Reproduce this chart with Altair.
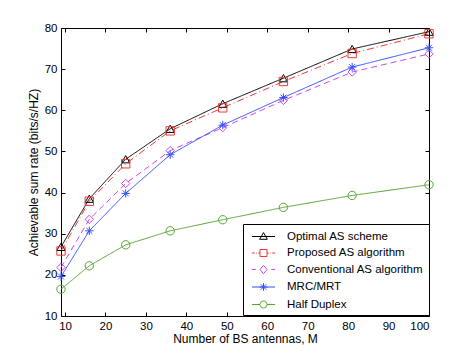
import altair as alt
import pandas as pd

antennas = [9, 16, 25, 36, 49, 64, 81, 100]
series_names = ["Optimal AS scheme", "Proposed AS algorithm", "Conventional AS algorithm", "MRC/MRT", "Half Duplex"]
optimal = [26.8, 38.5, 48.1, 55.5, 61.6, 67.8, 74.9, 79.1]
proposed = [25.8, 37.9, 47.0, 55.0, 60.6, 67.0, 73.8, 78.6]
conventional = [21.8, 33.5, 42.2, 50.2, 55.8, 62.4, 69.3, 73.7]
mrc = [19.6, 30.7, 39.8, 49.2, 56.4, 63.1, 70.5, 75.2]
half = [16.5, 22.2, 27.3, 30.7, 33.4, 36.4, 39.3, 41.9]
x_ticks = [10, 20, 30, 40, 50, 60, 70, 80, 90, 100]
y_ticks = [10, 20, 30, 40, 50, 60, 70, 80]

colors = ["#000000", "#ee3a33", "#c848f0", "#3350f5", "#55a532"]
dashes = [[1, 0], [7, 3, 1, 3], [6, 4], [1, 0], [1, 0]]

asterisk = "M-1,0L1,0M0,-1L0,1M-0.7,-0.7L0.7,0.7M-0.7,0.7L0.7,-0.7"
plot_shapes = ["triangle-up", "square", "diamond", asterisk, "circle"]

legend_shapes = [
    "M-1.65,0L1.65,0M0,-0.55L0.55,0.4L-0.55,0.4Z",
    "M-1.65,0L-1.25,0M-1.05,0L-0.95,0M-0.75,0L-0.5,0M-0.5,-0.5L0.5,-0.5L0.5,0.5L-0.5,0.5ZM0.5,0L0.75,0M0.95,0L1.05,0M1.25,0L1.65,0",
    "M-1.65,0L-1.1,0M0,-0.6L0.5,0L0,0.6L-0.5,0ZM1.1,0L1.65,0",
    "M-1.65,0L1.65,0M-0.55,0L0.55,0M0,-0.55L0,0.55M-0.4,-0.4L0.4,0.4M-0.4,0.4L0.4,-0.4",
    "M-1.65,0L-0.5,0M0.5,0L1.65,0M0.5,0A0.5,0.5,0,1,1,-0.5,0A0.5,0.5,0,1,1,0.5,0",
]

rows = []
for name, vals in zip(series_names, [optimal, proposed, conventional, mrc, half]):
    for xv, yv in zip(antennas, vals):
        rows.append({"M": xv, "rate": yv, "series": name})
df = pd.DataFrame(rows)

FONT = "Liberation Sans"

xscale = alt.Scale(domain=[9, 100], nice=False, zero=False)
yscale = alt.Scale(domain=[10, 80], nice=False, zero=False)
color_scale = alt.Scale(domain=series_names, range=colors)
color = alt.Color("series:N", scale=color_scale, legend=None)

legend_def = alt.Legend(title=None, orient="none", legendX=182, legendY=196,
                        symbolSize=196, symbolStrokeWidth=1, symbolOffset=8,
                        labelOffset=16, rowPadding=3.5, padding=5,
                        strokeColor="black", fillColor="white",
                        labelFontSize=11.5, labelFont=FONT, labelColor="black",
                        labelLimit=300, symbolFillColor="transparent")

base = alt.Chart(df)

lines = base.mark_line(strokeWidth=1).encode(
    x=alt.X("M:Q", scale=xscale, axis=alt.Axis(
        values=x_ticks, title="Number of BS antennas, M", orient="bottom",
        offset=-4, tickSize=4, domain=False, grid=False, labelPadding=4,
        titlePadding=2, format="d")),
    y=alt.Y("rate:Q", scale=yscale, axis=alt.Axis(
        values=y_ticks, title="Achievable sum rate (bits/s/HZ)", orient="left",
        offset=-4, tickSize=4, domain=False, grid=False, labelPadding=4,
        titlePadding=4, format="d")),
    color=color,
    strokeDash=alt.StrokeDash("series:N", scale=alt.Scale(domain=series_names, range=dashes), legend=None),
    detail="series:N",
)

points = base.mark_point(filled=False, strokeWidth=1, size=70, opacity=1).encode(
    x=alt.X("M:Q", scale=xscale, axis=alt.Axis(
        values=x_ticks, title=None, orient="top", offset=-4, tickSize=4,
        domain=False, grid=False, labels=False)),
    y=alt.Y("rate:Q", scale=yscale, axis=alt.Axis(
        values=y_ticks, title=None, orient="right", offset=-4, tickSize=4,
        domain=False, grid=False, labels=False)),
    color=color,
    shape=alt.Shape("series:N", scale=alt.Scale(domain=series_names, range=plot_shapes), legend=None),
)

legend_layer = base.transform_filter("false").mark_point(filled=False, strokeWidth=1, opacity=1).encode(
    x=alt.X("M:Q", scale=xscale, axis=None),
    y=alt.Y("rate:Q", scale=yscale, axis=None),
    color=alt.Color("series:N", scale=color_scale, legend=legend_def),
    shape=alt.Shape("series:N", scale=alt.Scale(domain=series_names, range=legend_shapes),
                    legend=legend_def),
)

chart = alt.layer(lines, points, legend_layer).resolve_axis(
    x="independent", y="independent"
).resolve_scale(shape="independent", color="independent").properties(
    width=368, height=288,
    background="white",
    autosize=alt.AutoSizeParams(type="none"),
    padding={"left": 61, "top": 28, "right": 45, "bottom": 39},
).configure_view(stroke="black", strokeWidth=1).configure_axis(
    labelFont=FONT, titleFont=FONT, labelFontSize=11.5, titleFontSize=12,
    labelColor="black", titleColor="black", tickColor="black",
    titleFontWeight="normal", tickWidth=1,
)

chart.save("out.html", embed_options={"renderer": "svg", "actions": False})
